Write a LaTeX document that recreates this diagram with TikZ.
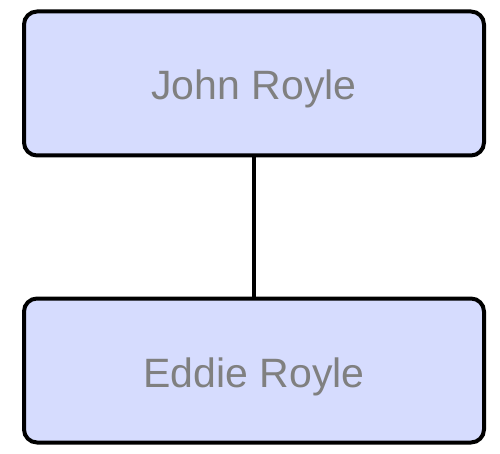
\documentclass[tikz,border=0pt]{standalone}
\usepackage{fontspec}
\setmainfont{Liberation Sans}
\definecolor{boxfill}{HTML}{D6DCFE}
\definecolor{txtgray}{HTML}{808080}
\begin{document}
\begin{tikzpicture}[x=1pt,y=-1pt,
  person/.style={draw=black,line width=4pt,fill=boxfill,rounded corners=13pt,
    minimum width=460pt,minimum height=144pt,inner sep=0pt,
    text height=33pt,text depth=0pt,
    font=\fontsize{41}{45}\selectfont,text=txtgray},
  link/.style={draw=black,line width=3.5pt}]
\useasboundingbox (0,0) rectangle (500,454);
\node[person] (john) at (254,83.5) {John Royle};
\node[person] (eddie) at (254,370.5) {Eddie Royle};
\draw[link] (john.south) -- (eddie.north);
\end{tikzpicture}
\end{document}
